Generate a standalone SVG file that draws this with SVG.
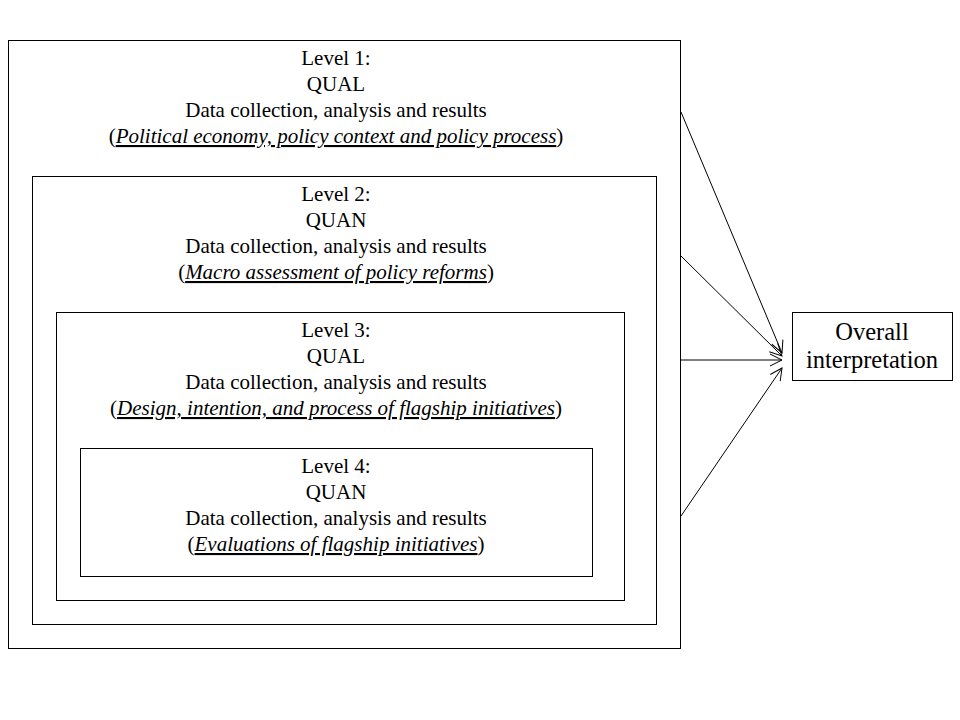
<svg xmlns="http://www.w3.org/2000/svg" width="960" height="720" viewBox="0 0 960 720">
<defs>
<style>
.box{fill:none;stroke:#000;stroke-width:1}
.t{font-family:"Liberation Serif","Times New Roman",serif;font-size:21px;fill:#000;text-anchor:middle}
.i{font-style:italic;text-decoration:underline}
.o{font-family:"Liberation Serif","Times New Roman",serif;font-size:24.5px;fill:#000;text-anchor:middle}
.c{stroke:#000;stroke-width:1;fill:none}
</style>
<marker id="arr" markerWidth="14" markerHeight="14" refX="13" refY="7" orient="auto" markerUnits="userSpaceOnUse">
<path d="M1,1 L13,7 L1,13" fill="none" stroke="#000" stroke-width="1"/>
</marker>
</defs>
<rect width="960" height="720" fill="#fff"/>
<g id="level1">
<rect class="box" x="8.5" y="40.5" width="672" height="608"/>
<text class="t" x="336" y="65">Level 1:</text>
<text class="t" x="336" y="91">QUAL</text>
<text class="t" x="336" y="117">Data collection, analysis and results</text>
<text class="t" x="336" y="143">(<tspan class="i">Political economy, policy context and policy process</tspan>)</text>
</g>
<g id="level2">
<rect class="box" x="32.5" y="176.5" width="624" height="448"/>
<text class="t" x="336" y="201">Level 2:</text>
<text class="t" x="336" y="227">QUAN</text>
<text class="t" x="336" y="253">Data collection, analysis and results</text>
<text class="t" x="336" y="279">(<tspan class="i">Macro assessment of policy reforms</tspan>)</text>
</g>
<g id="level3">
<rect class="box" x="56.5" y="312.5" width="568" height="288"/>
<text class="t" x="336" y="337">Level 3:</text>
<text class="t" x="336" y="363">QUAL</text>
<text class="t" x="336" y="389">Data collection, analysis and results</text>
<text class="t" x="336" y="415">(<tspan class="i">Design, intention, and process of flagship initiatives</tspan>)</text>
</g>
<g id="level4">
<rect class="box" x="80.5" y="448.5" width="512" height="128"/>
<text class="t" x="336" y="473">Level 4:</text>
<text class="t" x="336" y="499">QUAN</text>
<text class="t" x="336" y="525">Data collection, analysis and results</text>
<text class="t" x="336" y="551">(<tspan class="i">Evaluations of flagship initiatives</tspan>)</text>
</g>
<g id="overall">
<rect class="box" x="792.5" y="312.5" width="160" height="68"/>
<text class="o" x="872" y="340">Overall</text>
<text class="o" x="872" y="368">interpretation</text>
</g>
<g id="connectors">
<line class="c" x1="681" y1="112" x2="782" y2="353" marker-end="url(#arr)"/>
<line class="c" x1="681" y1="256" x2="782" y2="356" marker-end="url(#arr)"/>
<line class="c" x1="681" y1="360" x2="782" y2="360" marker-end="url(#arr)"/>
<line class="c" x1="681" y1="516" x2="782" y2="368" marker-end="url(#arr)"/>
</g>
</svg>
